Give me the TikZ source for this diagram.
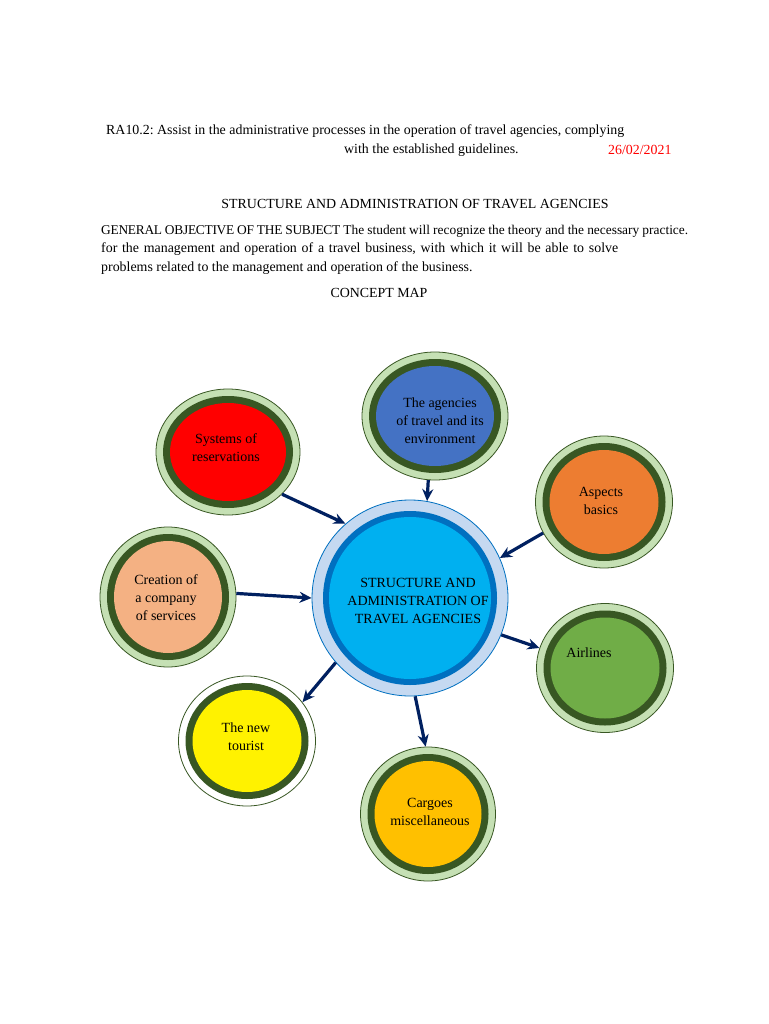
\documentclass[tikz,border=0pt]{standalone}
\usepackage{fontspec}
\setmainfont{Liberation Serif}
\usetikzlibrary{shapes.geometric,arrows.meta}
\frenchspacing

\definecolor{ringlight}{HTML}{C5E0B4}
\definecolor{ringdark}{HTML}{385723}
\definecolor{arrowblue}{HTML}{002060}
\definecolor{mainlight}{HTML}{C5D9F1}
\definecolor{mainring}{HTML}{0070C0}
\definecolor{maincore}{HTML}{00B0F0}
\definecolor{agencyblue}{HTML}{4472C4}
\definecolor{aspectorange}{HTML}{ED7D31}
\definecolor{creationpeach}{HTML}{F4B183}
\definecolor{airlinegreen}{HTML}{70AD47}
\definecolor{cargogold}{HTML}{FFC000}

\tikzset{
  outerring/.style={ellipse, draw=ringdark, line width=0.8pt, fill=ringlight, inner sep=0pt},
  innerring/.style={ellipse, fill=ringdark, inner sep=0pt},
  core/.style={ellipse, inner sep=0pt},
  bubbletext/.style={align=center, font=\fontsize{14}{18}\selectfont},
  headtext/.style={font=\fontsize{13.9}{16}\selectfont, inner sep=0pt},
  link/.style={draw=arrowblue, line width=3.2pt, -{Stealth[length=12pt,width=11pt]}}
}

\begin{document}
\begin{tikzpicture}[x=1pt, y=-1pt]
        % Page
        \fill[white] (0,0) rectangle (768,1024);
        \useasboundingbox (0,0) rectangle (768,1024);

        % Header
        \node[headtext, anchor=west] (ra) at (106,131) {RA10.2: Assist in the administrative processes in the operation of travel agencies, complying};
        \node[headtext, anchor=west] (guide) at (344,150) {with the established guidelines.};
        \node[headtext, anchor=west, text=red] (date) at (608,150) {26/02/2021};
        \node[headtext] (title) at (415,204) {STRUCTURE AND ADMINISTRATION OF TRAVEL AGENCIES};
        \node[headtext, font=\fontsize{13.4}{16}\selectfont, anchor=west] (obj1) at (101,231) {\makebox[587pt][s]{{\addfontfeature{LetterSpace=-2}GENERAL OBJECTIVE OF THE SUBJECT} The student will recognize the theory and the necessary practice.}};
        \node[headtext, anchor=west] (obj2) at (101,249) {\makebox[517pt][s]{for the management and operation of a travel business, with which it will be able to solve}};
        \node[headtext, anchor=west] (obj3) at (101,268) {problems related to the management and operation of the business.};
        \node[headtext] (maptitle) at (379,293) {CONCEPT MAP};

        % Central bubble
        \node[ellipse, draw=mainring, line width=0.8pt, fill=mainlight, inner sep=0pt, minimum size=196pt] (main) at (410,598) {};
        \node[core, fill=mainring, minimum size=174pt] (mainband) at (main) {};
        \node[core, fill=maincore, minimum size=162pt] (maincenter) at (main) {};
        \node[bubbletext] (maintext) at (418,601) {STRUCTURE AND\\ADMINISTRATION OF\\TRAVEL AGENCIES};

        % Systems of reservations
        \node[outerring, minimum width=144pt, minimum height=126pt] (sys) at (228,452) {};
        \node[innerring, minimum width=130pt, minimum height=112pt] (sysring) at (sys) {};
        \node[core, fill=red, minimum width=116pt, minimum height=98pt] (syscore) at (sys) {};
        \node[bubbletext] (systext) at (226,448) {Systems of\\reservations};

        % The agencies of travel
        \node[outerring, minimum width=146pt, minimum height=128pt] (agency) at (435,416) {};
        \node[innerring, minimum width=132pt, minimum height=114pt] (agencyring) at (agency) {};
        \node[core, fill=agencyblue, minimum width=118pt, minimum height=100pt] (agencycore) at (agency) {};
        \node[bubbletext] (agencytext) at (440,421) {The agencies\\of travel and its\\environment};

        % Aspects basics
        \node[outerring, minimum width=137pt, minimum height=132pt] (aspects) at (604,502) {};
        \node[innerring, minimum width=123pt, minimum height=118pt] (aspectsring) at (aspects) {};
        \node[core, fill=aspectorange, minimum width=109pt, minimum height=104pt] (aspectscore) at (aspects) {};
        \node[bubbletext] (aspectstext) at (601,501) {Aspects\\basics};

        % Creation of a company
        \node[outerring, minimum width=136pt, minimum height=140pt] (creation) at (168,597) {};
        \node[innerring, minimum width=122pt, minimum height=126pt] (creationring) at (creation) {};
        \node[core, fill=creationpeach, minimum width=108pt, minimum height=112pt] (creationcore) at (creation) {};
        \node[bubbletext] (creationtext) at (166,598) {Creation of\\a company\\of services};

        % Airlines
        \node[outerring, minimum width=137pt, minimum height=129pt] (airlines) at (605,668) {};
        \node[innerring, minimum width=123pt, minimum height=115pt] (airlinesring) at (airlines) {};
        \node[core, fill=airlinegreen, minimum width=109pt, minimum height=101pt] (airlinescore) at (airlines) {};
        \node[bubbletext] (airlinestext) at (589,653) {Airlines};

        % The new tourist
        \node[outerring, fill=white, minimum width=137pt, minimum height=130pt] (tourist) at (247,741) {};
        \node[innerring, minimum width=123pt, minimum height=116pt] (touristring) at (tourist) {};
        \node[core, fill=yellow, minimum width=109pt, minimum height=102pt] (touristcore) at (tourist) {};
        \node[bubbletext] (touristtext) at (246,737) {The new\\tourist};

        % Cargoes miscellaneous
        \node[outerring, minimum width=135pt, minimum height=134pt] (cargoes) at (428,814) {};
        \node[innerring, minimum width=121pt, minimum height=120pt] (cargoesring) at (cargoes) {};
        \node[core, fill=cargogold, minimum width=107pt, minimum height=106pt] (cargoescore) at (cargoes) {};
        \node[bubbletext] (cargoestext) at (430,812) {Cargoes\\miscellaneous};

        % Arrows
        \draw[link] (sys.-38) -- (main.131);
        \draw[link] (agency.-96) -- (main.80);
        \draw[link] (aspects.207) -- (main.24);
        \draw[link] (creation.3) -- (main.180);
        \draw[link] (main.-22) -- (airlines.163);
        \draw[link] (main.221) -- (tourist.35);
        \draw[link] (main.-87) -- (cargoes.92);
\end{tikzpicture}
\end{document}
